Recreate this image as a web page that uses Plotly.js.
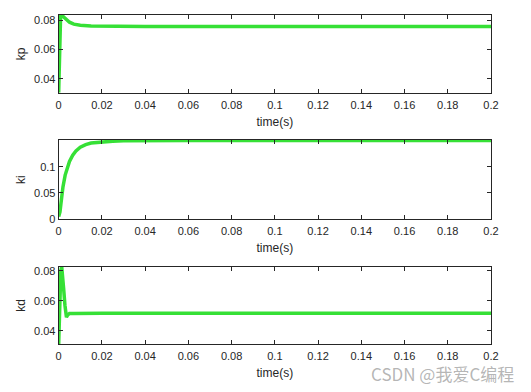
<!DOCTYPE html>
<html>
<head>
<meta charset="utf-8">
<script src="https://cdn.plot.ly/plotly-3.0.1.min.js"></script>
<style>html,body{margin:0;padding:0;background:#fff;}#chart{width:531px;height:392px;}</style>
</head>
<body>
<div id="chart"></div>
<script>
// ---- data ----
var tKp = [0, 0.0002, 0.0004, 0.0006, 0.0009, 0.0013, 0.0018, 0.0025, 0.0035, 0.005, 0.007, 0.01, 0.015, 0.02, 0.03, 0.04, 0.06, 0.1, 0.15, 0.2];
var kp  = [0.0306, 0.040, 0.058, 0.078, 0.0834, 0.0834, 0.0828, 0.0815, 0.0800, 0.0785, 0.0772, 0.0764, 0.0760, 0.0758, 0.0756, 0.0756, 0.0756, 0.0756, 0.0756, 0.0756];

var tKi = [0, 0.0003, 0.0006, 0.001, 0.0015, 0.002, 0.003, 0.004, 0.005, 0.0065, 0.008, 0.01, 0.0125, 0.015, 0.02, 0.025, 0.03, 0.04, 0.06, 0.1, 0.15, 0.2];
var ki  = [0.005, 0.008, 0.014, 0.028, 0.046, 0.062, 0.084, 0.099, 0.110, 0.122, 0.130, 0.137, 0.142, 0.145, 0.1475, 0.1485, 0.149, 0.1495, 0.1495, 0.1495, 0.1495, 0.1495];

var tKd = [0, 0.0002, 0.0004, 0.0007, 0.001, 0.0014, 0.0018, 0.0023, 0.0029, 0.0036, 0.0042, 0.005, 0.007, 0.01, 0.02, 0.04, 0.1, 0.15, 0.2];
var kd  = [0.031, 0.040, 0.055, 0.072, 0.080, 0.0827, 0.078, 0.068, 0.057, 0.049, 0.0505, 0.0515, 0.0515, 0.0514, 0.0516, 0.0516, 0.0516, 0.0516, 0.0516];

var xTicks = [0, 0.02, 0.04, 0.06, 0.08, 0.1, 0.12, 0.14, 0.16, 0.18, 0.2];
var kpTicks = [0.04, 0.06, 0.08];
var kiTicks = [0, 0.05, 0.1];
var kdTicks = [0.04, 0.06, 0.08];

var lineColor = '#36e036';
var axColor = '#262626';
var fnt = {family: 'Liberation Sans, Arial, sans-serif', size: 11, color: axColor};
var tfnt = {family: 'Liberation Sans, Arial, sans-serif', size: 12, color: axColor};

function tr(x, y, xa, ya) {
  return {x: x, y: y, xaxis: xa, yaxis: ya, type: 'scatter', mode: 'lines',
          line: {color: lineColor, width: 3.5}, showlegend: false, hoverinfo: 'skip'};
}
function xax(anchor) {
  return {domain: [0.1105, 0.9247], range: [0, 0.2], anchor: anchor,
          tickvals: xTicks, ticks: 'inside', ticklen: 4, tickcolor: axColor,
          showline: true, linecolor: axColor, linewidth: 1, mirror: 'ticks',
          showgrid: false, zeroline: false, tickfont: fnt, ticklabelstandoff: 2,
          title: {text: 'time(s)', font: tfnt, standoff: 7}};
}
function yax(dom, range, ticks, anchor, title) {
  return {domain: dom, range: range, anchor: anchor,
          tickvals: ticks, ticks: 'inside', ticklen: 4, tickcolor: axColor,
          showline: true, linecolor: axColor, linewidth: 1, mirror: 'ticks',
          showgrid: false, zeroline: false, tickfont: fnt,
          title: {text: title, font: tfnt, standoff: 5}};
}

var data = [tr(tKp, kp, 'x', 'y'), tr(tKi, ki, 'x2', 'y2'), tr(tKd, kd, 'x3', 'y3')];
var layout = {
  width: 531, height: 392,
  margin: {l: 0, r: 0, t: 0, b: 0},
  paper_bgcolor: '#fff', plot_bgcolor: '#fff',
  xaxis: xax('y'), yaxis: yax([0.7635, 0.9617], [0.0306, 0.0834], kpTicks, 'x', 'kp'),
  xaxis2: xax('y2'), yaxis2: yax([0.4406, 0.6429], [0, 0.1507], kiTicks, 'x2', 'ki'),
  xaxis3: xax('y3'), yaxis3: yax([0.1217, 0.3196], [0.0309, 0.0827], kdTicks, 'x3', 'kd'),
  annotations: [{text: 'CSDN @我爱C编程', xref: 'paper', yref: 'paper', x: 0.972, y: 0.01,
                 xanchor: 'right', yanchor: 'bottom', showarrow: false,
                 font: {family: 'Noto Sans CJK SC, sans-serif', size: 17, color: 'rgba(150,150,150,0.7)'}}]
};
Plotly.newPlot('chart', data, layout, {staticPlot: true, displayModeBar: false});
</script>
</body>
</html>
